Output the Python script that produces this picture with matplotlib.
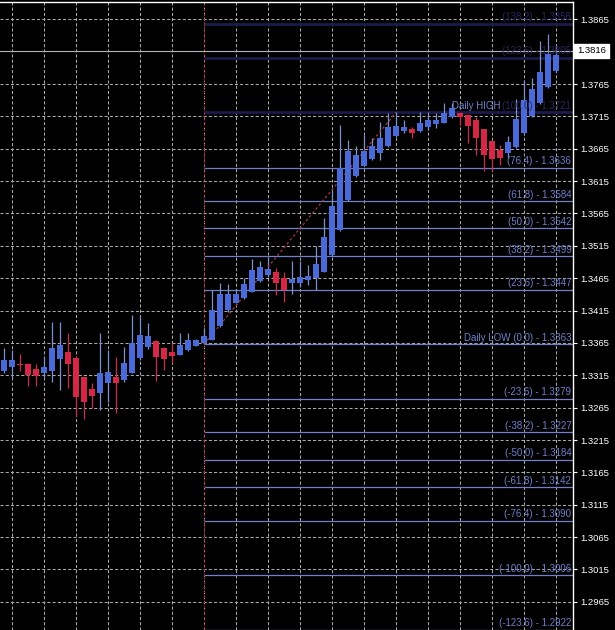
import numpy as np
import matplotlib
matplotlib.use("Agg")
import matplotlib.pyplot as plt

plt.rcParams['font.family'] = ['Liberation Sans', 'DejaVu Sans']

# candle data, one bar per period
opens = [1.3321, 1.3328, 1.3333, 1.3333, 1.3325, 1.3318, 1.3322, 1.3340, 1.3351, 1.3341,
         1.3312, 1.3294, 1.3288, 1.3303, 1.3312, 1.3308, 1.3319, 1.3341, 1.3359, 1.3368,
         1.3357, 1.3351, 1.3347, 1.3354, 1.3361, 1.3365, 1.3370, 1.3391, 1.3416, 1.3427,
         1.3434, 1.3444, 1.3460, 1.3470, 1.3475, 1.3466, 1.3457, 1.3458, 1.3462, 1.3465,
         1.3475, 1.3501, 1.3539, 1.3586, 1.3623, 1.3639, 1.3649, 1.3659, 1.3670, 1.3684,
         1.3692, 1.3695, 1.3692, 1.3698, 1.3703, 1.3705, 1.3714, 1.3720, 1.3717, 1.3710,
         1.3695, 1.3677, 1.3663, 1.3658, 1.3667, 1.3689, 1.3715, 1.3735, 1.3760, 1.3785]
highs = [1.3357, 1.3354, 1.3348, 1.3334, 1.3333, 1.3344, 1.3398, 1.3397, 1.3380, 1.3345,
         1.3313, 1.3303, 1.3381, 1.3354, 1.3343, 1.3359, 1.3408, 1.3407, 1.3396, 1.3370,
         1.3358, 1.3365, 1.3380, 1.3381, 1.3371, 1.3388, 1.3447, 1.3457, 1.3456, 1.3448,
         1.3465, 1.3494, 1.3492, 1.3498, 1.3480, 1.3475, 1.3491, 1.3491, 1.3486, 1.3515,
         1.3558, 1.3600, 1.3702, 1.3678, 1.3669, 1.3686, 1.3682, 1.3707, 1.3720, 1.3722,
         1.3710, 1.3699, 1.3721, 1.3721, 1.3720, 1.3735, 1.3736, 1.3722, 1.3718, 1.3714,
         1.3696, 1.3678, 1.3671, 1.3684, 1.3742, 1.3771, 1.3774, 1.3831, 1.3842, 1.3825]
lows = [1.3318, 1.3311, 1.3321, 1.3299, 1.3298, 1.3313, 1.3305, 1.3292, 1.3295, 1.3251,
        1.3248, 1.3265, 1.3262, 1.3274, 1.3256, 1.3305, 1.3318, 1.3339, 1.3356, 1.3306,
        1.3323, 1.3334, 1.3346, 1.3353, 1.3360, 1.3363, 1.3369, 1.3390, 1.3413, 1.3426,
        1.3433, 1.3443, 1.3459, 1.3467, 1.3439, 1.3429, 1.3441, 1.3451, 1.3455, 1.3447,
        1.3474, 1.3500, 1.3538, 1.3585, 1.3622, 1.3638, 1.3648, 1.3648, 1.3668, 1.3683,
        1.3689, 1.3681, 1.3691, 1.3694, 1.3697, 1.3705, 1.3713, 1.3702, 1.3674, 1.3656,
        1.3630, 1.3630, 1.3640, 1.3651, 1.3666, 1.3688, 1.3714, 1.3734, 1.3759, 1.3784]
closes = [1.3339, 1.3338, 1.3331, 1.3316, 1.3314, 1.3328, 1.3357, 1.3362, 1.3332, 1.3282,
          1.3274, 1.3283, 1.3319, 1.3320, 1.3303, 1.3334, 1.3365, 1.3377, 1.3375, 1.3344,
          1.3340, 1.3345, 1.3362, 1.3370, 1.3370, 1.3375, 1.3416, 1.3441, 1.3441, 1.3441,
          1.3456, 1.3478, 1.3482, 1.3479, 1.3457, 1.3447, 1.3463, 1.3467, 1.3469, 1.3487,
          1.3529, 1.3577, 1.3635, 1.3662, 1.3656, 1.3662, 1.3669, 1.3682, 1.3699, 1.3700,
          1.3698, 1.3689, 1.3705, 1.3710, 1.3709, 1.3720, 1.3728, 1.3714, 1.3700, 1.3681,
          1.3656, 1.3649, 1.3651, 1.3676, 1.3711, 1.3741, 1.3757, 1.3784, 1.3811, 1.3810]

# fibonacci retracement levels
fib_ratios = [-123.6, -100.0, -76.4, -61.8, -50.0, -38.2, -23.6, 0.0, 23.6, 38.2, 50.0, 61.8, 76.4,
              100.0, 123.6, 138.2]
fib_prices = [1.2922, 1.3006, 1.3090, 1.3142, 1.3184, 1.3227, 1.3279, 1.3363, 1.3447, 1.3499,
              1.3542, 1.3584, 1.3636, 1.3721, 1.3805, 1.3858]
fib_start = 25                 # bar where the daily low sits
trend_bars = [25, 49]          # low bar -> high bar
trend_prices = [1.3363, 1.3721]

bid = 1.3816
yticks = [1.2965, 1.3015, 1.3065, 1.3115, 1.3165, 1.3215, 1.3265, 1.3315, 1.3365, 1.3415,
          1.3465, 1.3515, 1.3565, 1.3615, 1.3665, 1.3715, 1.3765, 1.3865]

up_col = '#4a6ad8'
dn_col = '#d42846'
fib_col = '#6f7fc8'
dim_col = '#1a1a4c'
dim_txt = '#262660'

fig = plt.figure(figsize=(6.15, 6.3), dpi=100, facecolor='black')
ax = fig.add_axes([0, 0, 573 / 615, 628 / 630])
ax.set_facecolor('black')

x = np.arange(len(opens))
o = np.array(opens)
c = np.array(closes)
up = c >= o
body_lo = np.minimum(o, c)
body_h = np.maximum(np.abs(c - o), 0.00012)

ax.vlines(x[up], np.array(lows)[up], np.array(highs)[up], color='#8090cc', lw=0.9, zorder=3)
ax.vlines(x[~up], np.array(lows)[~up], np.array(highs)[~up], color='#c83050', lw=0.9, zorder=3)
ax.bar(x[up], body_h[up], bottom=body_lo[up], width=0.65, color=up_col, zorder=4, linewidth=0)
ax.bar(x[~up], body_h[~up], bottom=body_lo[~up], width=0.65, color=dn_col, zorder=4, linewidth=0)

xmax = 71.125
# fib levels
for r, p in zip(fib_ratios, fib_prices):
    if r >= 100:
        ax.hlines(p, fib_start, xmax, color=dim_col, lw=2.0, zorder=2)
        col = dim_txt
    else:
        ax.hlines(p, fib_start, xmax, color=fib_col, lw=0.9, zorder=2)
        col = fib_col
    txt = f"({r:.1f}) - {p:.4f}"
    if r == 0:
        txt = "Daily LOW " + txt
    ax.annotate(txt, xy=(0.997, p), xycoords=ax.get_yaxis_transform(), xytext=(0, 1.2),
                textcoords='offset points', ha='right', va='bottom', color=col, fontsize=7, zorder=5)
    if r == 100:
        ax.annotate("Daily HIGH", xy=(62.1, p), xytext=(0, 1.2), textcoords='offset points',
                    ha='right', va='bottom', color=fib_col, fontsize=7, zorder=5)

# trend line and day separator
ax.plot(trend_bars, trend_prices, color='#a83848', lw=0.9, linestyle=(0, (2, 2)), zorder=3)
ax.axvline(fib_start, color='#7a1414', lw=0.9, linestyle=(0, (1, 1)), zorder=2)

# bid line
ax.axhline(bid, color='#b4b4b4', lw=0.8, zorder=2)

ax.set_xlim(-0.5, xmax)
ax.set_ylim(1.29215, 1.38917)
ax.set_xticks(np.arange(1, 70, 4))
ax.set_yticks(yticks)
ax.set_yticklabels([f"{t:.4f}" for t in yticks])
ax.yaxis.tick_right()
ax.tick_params(axis='x', length=0, labelbottom=False)
ax.tick_params(axis='y', colors='white', length=3, width=0.8, labelsize=6.8, pad=2)
ax.grid(True, color='#a8a8a8', linestyle=(0, (3, 2)), linewidth=0.75, zorder=1)
ax.set_axisbelow(True)

for s in ['left', 'bottom']:
    ax.spines[s].set_visible(False)
ax.spines['top'].set_color('white')
ax.spines['right'].set_color('white')
ax.spines['top'].set_linewidth(1)
ax.spines['right'].set_linewidth(1)

ax.text(1.0 + 4 / 573, bid, f"{bid:.4f}", transform=ax.get_yaxis_transform(), ha='left', va='center',
        fontsize=6.8, color='black', clip_on=False,
        bbox=dict(boxstyle='square,pad=0.3', fc='white', ec='white'))

plt.savefig('out.png', dpi=100, facecolor='black')
